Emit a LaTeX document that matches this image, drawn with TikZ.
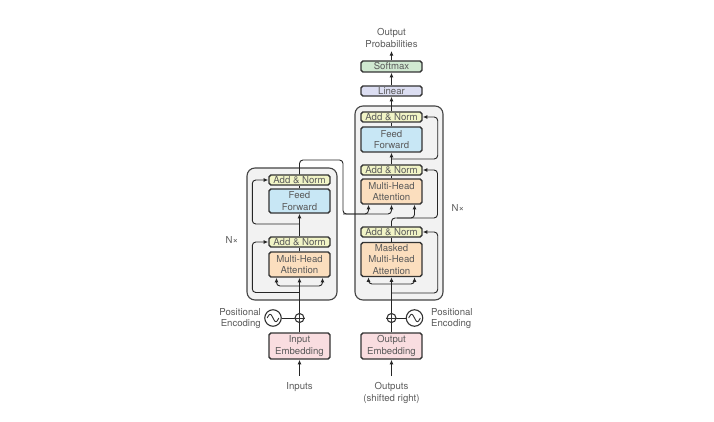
\documentclass[tikz,border=0pt]{standalone}
\usepackage{fontspec}
\setmainfont{TeX Gyre Heros}
\usetikzlibrary{arrows.meta,calc}
\definecolor{txt}{HTML}{5A5A5A}
\definecolor{bord}{HTML}{333333}
\definecolor{stk}{HTML}{444444}
\definecolor{stkfill}{HTML}{F2F2F2}
\definecolor{anfill}{HTML}{F1F4C6}
\definecolor{fffill}{HTML}{C8E7F5}
\definecolor{mhafill}{HTML}{FBDEBE}
\definecolor{embfill}{HTML}{F9DDE0}
\definecolor{linfill}{HTML}{DCDEF2}
\definecolor{softfill}{HTML}{D0E9D1}
\begin{document}
\begin{tikzpicture}[x=1pt,y=-1pt,
  every node/.style={font=\fontsize{9.6}{11.5}\selectfont, text=txt},
  blk/.style={draw=bord, line width=1.4pt, rounded corners=1.8pt, align=center, inner sep=0pt, minimum width=61pt},
  stack/.style={draw=stk, line width=1.1pt, fill=stkfill, rounded corners=8pt, inner sep=0pt},
  ln/.style={line width=0.9pt, draw=black!85, rounded corners=3.5pt},
  arr/.style={ln, -{Latex[length=4.6pt,width=3.8pt]}},
  ring/.style={circle, draw=bord, line width=1.1pt, inner sep=0pt},
]
\useasboundingbox (0,0) rectangle (714,422);
% stacks
\node[stack, minimum width=90pt, minimum height=132pt] (estack) at (292,234) {};
\node[stack, minimum width=88pt, minimum height=194pt] (dstack) at (399,203) {};
% encoder blocks
\node[blk, fill=anfill, minimum height=10pt] (ean2) at (299.5,180) {Add \& Norm};
\node[blk, fill=fffill, minimum height=24pt] (eff) at (299.5,201) {Feed\\Forward};
\node[blk, fill=anfill, minimum height=10pt] (ean1) at (299.5,242) {Add \& Norm};
\node[blk, fill=mhafill, minimum height=25pt] (emha) at (299.5,264.5) {Multi-Head\\Attention};
\node[blk, fill=embfill, minimum height=26pt] (eemb) at (299.5,346) {Input\\Embedding};
% decoder blocks
\node[blk, fill=softfill, minimum height=11pt] (soft) at (391.5,66.5) {Softmax};
\node[blk, fill=linfill, minimum height=10pt] (lin) at (391.5,91) {Linear};
\node[blk, fill=anfill, minimum height=10pt] (dan3) at (391.5,117) {Add \& Norm};
\node[blk, fill=fffill, minimum height=25pt] (dff) at (391.5,139.5) {Feed\\Forward};
\node[blk, fill=anfill, minimum height=10pt] (dan2) at (391.5,170) {Add \& Norm};
\node[blk, fill=mhafill, minimum height=25pt] (dmha) at (391.5,191.5) {Multi-Head\\Attention};
\node[blk, fill=anfill, minimum height=10pt] (dan1) at (391.5,232) {Add \& Norm};
\node[blk, fill=mhafill, minimum height=34pt] (dmmha) at (391.5,259.5) {Masked\\Multi-Head\\Attention};
\node[blk, fill=embfill, minimum height=26pt] (demb) at (391.5,346) {Output\\Embedding};
% positional encodings
\node[ring, minimum size=9pt] (eplus) at (299.5,318) {};
\node[ring, minimum size=16.5pt] (esin) at (273,318) {};
\node[ring, minimum size=9pt] (dplus) at (391.5,318) {};
\node[ring, minimum size=16.5pt] (dsin) at (414.5,318) {};
\draw[line width=0.9pt, draw=bord] (eplus.north) -- (eplus.south) (eplus.west) -- (eplus.east);
\draw[line width=0.9pt, draw=bord] (dplus.north) -- (dplus.south) (dplus.west) -- (dplus.east);
\begin{scope}[shift={(esin.center)}]
  \draw[line width=0.9pt, draw=bord] plot[domain=-1:1, samples=40, smooth] ({5.8*\x}, {3.6*sin(180*\x)});
\end{scope}
\begin{scope}[shift={(dsin.center)}]
  \draw[line width=0.9pt, draw=bord] plot[domain=-1:1, samples=40, smooth] ({5.8*\x}, {3.6*sin(180*\x)});
\end{scope}
\node[anchor=east, align=right, inner sep=0pt] (epos) at (261,318.5) {Positional\\Encoding};
\node[anchor=west, align=left, inner sep=0pt] (dpos) at (431,318.5) {Positional\\Encoding};
% labels
\node (inp) at (299.5,387) {Inputs};
\node[align=center] (outs) at (391.5,393) {Outputs\\(shifted right)};
\node[align=center] (outp) at (391.5,38) {Output\\Probabilities};
\node (nx1) at (232,240) {N×};
\node (nx2) at (458,208) {N×};
% coordinates
\coordinate (efork) at (299.5,286);
\coordinate (eres1) at (299.5,292.5);
\coordinate (eres2) at (299.5,224);
\coordinate (eo1) at (299.5,160);
\coordinate (eo2) at (343,160);
\coordinate (eo3) at (343,214);
\coordinate (dfork) at (391.5,284);
\coordinate (dres1) at (391.5,293);
\coordinate (dq) at (391.5,218);
\coordinate (dq2) at (397,218);
\coordinate (dr2) at (437.5,218);
\coordinate (dres3) at (391.5,159);
% encoder connectors
\draw[arr] ([yshift=3pt]inp.north) -- (eemb.south);
\draw[ln] (eemb.north) -- (eplus.south);
\draw[ln] (esin.east) -- (eplus.west);
\draw[arr] (eplus.north) -- (emha.south);
\draw[arr] (efork) -| ([xshift=-23pt]emha.south);
\draw[arr] (efork) -| ([xshift=23pt]emha.south);
\draw[arr] (eres1) -| ([xshift=-16pt]ean1.west) -- (ean1.west);
\draw[ln] (emha.north) -- (ean1.south);
\draw[arr] (ean1.north) -- (eff.south);
\draw[arr] (eres2) -| ([xshift=-16pt]ean2.west) -- (ean2.west);
\draw[ln] (eff.north) -- (ean2.south);
\draw[arr] (ean2.north) -- (eo1) -- (eo2) -- (eo3) -| ([xshift=-23pt]dmha.south);
\draw[arr] (eo3) -| (dmha.south);
% decoder connectors
\draw[arr] ([yshift=3pt]outs.north) -- (demb.south);
\draw[ln] (demb.north) -- (dplus.south);
\draw[ln] (dsin.west) -- (dplus.east);
\draw[arr] (dplus.north) -- (dmmha.south);
\draw[arr] (dfork) -| ([xshift=-23pt]dmmha.south);
\draw[arr] (dfork) -| ([xshift=23pt]dmmha.south);
\draw[arr] (dres1) -| ([xshift=15pt]dan1.east) -- (dan1.east);
\draw[ln] (dmmha.north) -- (dan1.south);
\draw[arr] (dan1.north) -- (dq) -- (dr2) |- (dan2.east);
\draw[arr] (dq2) -| ([xshift=23pt]dmha.south);
\draw[ln] (dmha.north) -- (dan2.south);
\draw[arr] (dan2.north) -- (dff.south);
\draw[arr] (dres3) -| ([xshift=15pt]dan3.east) -- (dan3.east);
\draw[ln] (dff.north) -- (dan3.south);
\draw[arr] (dan3.north) -- (lin.south);
\draw[arr] (lin.north) -- (soft.south);
\draw[arr] (soft.north) -- (outp.south);
\end{tikzpicture}
\end{document}
